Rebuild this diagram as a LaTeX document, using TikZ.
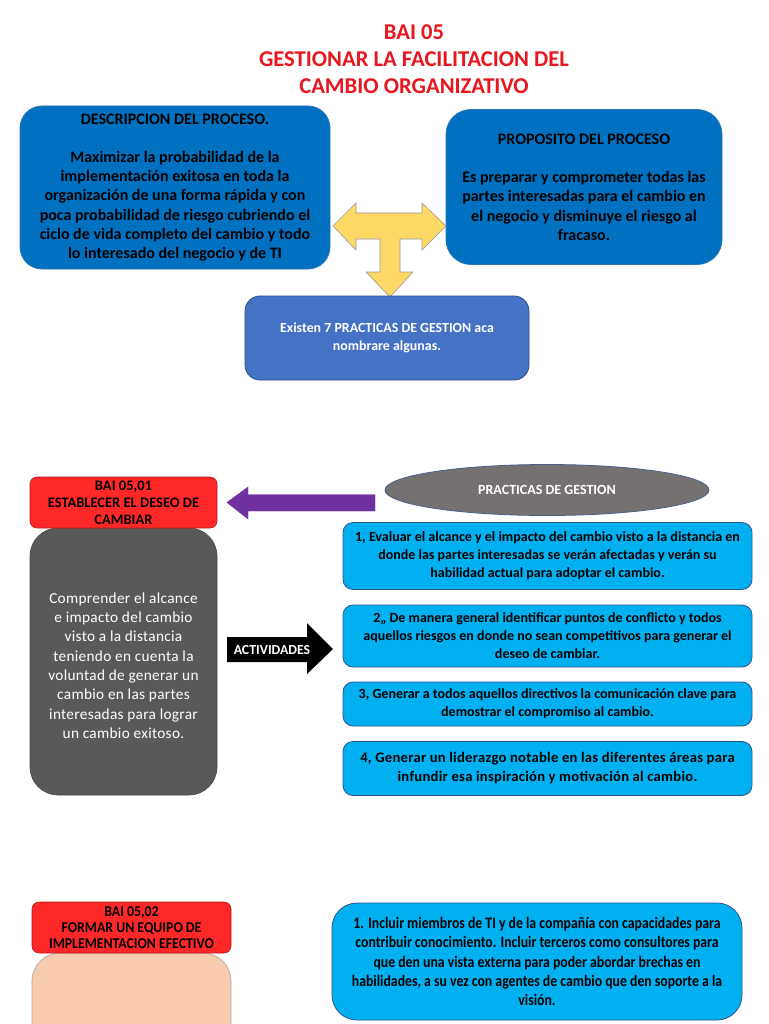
\documentclass[tikz,border=0pt]{standalone}
\usepackage{fontspec}
\setmainfont{Carlito}
\usetikzlibrary{shapes.geometric}
\definecolor{titlered}{RGB}{232,22,30}
\definecolor{darkblue}{RGB}{0,112,192}
\definecolor{darkblueedge}{RGB}{46,117,182}
\definecolor{midblue}{RGB}{68,114,196}
\definecolor{edgeblue}{RGB}{47,82,143}
\definecolor{lightblue}{RGB}{0,176,240}
\definecolor{boxred}{RGB}{255,40,40}
\definecolor{boxgray}{RGB}{89,89,89}
\definecolor{ellgray}{RGB}{118,113,113}
\definecolor{purp}{RGB}{112,48,160}
\definecolor{yel}{RGB}{255,217,102}
\definecolor{peach}{RGB}{248,203,173}
\begin{document}
\begin{tikzpicture}[x=1pt,y=-1pt,
  every node/.style={inner sep=0pt,outer sep=0pt,align=center},
  bigblue/.style={fill=darkblue,draw=darkblueedge,line width=0.8pt,rounded corners=22pt,
     font=\fontsize{16}{19.2}\selectfont\bfseries,text=black},
  litebox/.style={fill=lightblue,draw=edgeblue,line width=0.8pt,rounded corners=10pt,
     minimum width=409pt,font=\fontsize{14}{18}\selectfont\bfseries,text=black},
  redbox/.style={fill=boxred,draw=boxred!70!black,line width=0.6pt,rounded corners=7pt,
     font=\fontsize{14.5}{16.8}\selectfont\bfseries,text=black},
  blockarrow/.style={line width=0.6pt}
]
\useasboundingbox (0,0) rectangle (768,1024);
\fill[white] (0,0) rectangle (768,1024);

% Title
\node[text=titlered,font=\fontsize{22.6}{27}\selectfont\bfseries] (title) at (414,59)
  {BAI 05\\GESTIONAR LA FACILITACION DEL\\CAMBIO ORGANIZATIVO};

% Top boxes
\node[bigblue,minimum width=310pt,minimum height=163pt] (desc) at (175,187.5)
  {DESCRIPCION DEL PROCESO.\\[19.2pt]Maximizar la probabilidad de la\\implementación exitosa en toda la\\organización de una forma rápida y con\\poca probabilidad de riesgo cubriendo el\\ciclo de vida completo del cambio y todo\\lo interesado del negocio y de TI};
\node[bigblue,rounded corners=25pt,minimum width=276pt,minimum height=155pt] (prop) at (584,187)
  {PROPOSITO DEL PROCESO\\[19.5pt]Es preparar y comprometer todas las\\partes interesadas para el cambio en\\el negocio y disminuye el riesgo al\\fracaso.};

% T arrow
\draw[blockarrow,fill=yel,draw=gray!80] (333,226) -- (356,203) -- (356,213) -- (422,213) -- (422,203)
  -- (446,226) -- (422,250) -- (422,239) -- (400,239) -- (400,272) -- (413,272) -- (390,297)
  -- (366,272) -- (380,272) -- (380,239) -- (356,239) -- (356,250) -- cycle;

\node[fill=midblue,draw=edgeblue,line width=0.8pt,rounded corners=15pt,minimum width=284pt,minimum height=84pt,
  text=white,font=\fontsize{13.9}{17.5}\selectfont\bfseries] (exist) at (387,338)
  {Existen 7 PRACTICAS DE GESTION aca\\nombrare algunas.};

% Section 1
\node[fill=boxgray,draw=boxgray!80!black,line width=0.6pt,rounded corners=28pt,minimum width=187pt,minimum height=267pt] (gray1) at (123.5,661.5) {};
\node[text=white,font=\fontsize{15.3}{19.3}\selectfont\addfontfeature{LetterSpace=2}] (gray1txt) at (123.5,665.5)
  {Comprender el alcance\\e impacto del cambio\\visto a la distancia\\teniendo en cuenta la\\voluntad de generar un\\cambio en las partes\\interesadas para lograr\\un cambio exitoso.};
\node[redbox,minimum width=187pt,minimum height=51pt] (red1) at (123.5,502.5)
  {BAI 05,01\\ESTABLECER EL DESEO DE\\CAMBIAR};

\node[ellipse,fill=ellgray,draw=edgeblue!70!gray,line width=0.8pt,minimum width=324pt,minimum height=51pt,
  text=white,font=\fontsize{14}{16}\selectfont\bfseries] (pract) at (547,490) {PRACTICAS DE GESTION};

% purple arrow
\draw[fill=purp,draw=purp] (227,502.5) -- (248,487) -- (248,494.5) -- (375,494.5) -- (375,511)
  -- (248,511) -- (248,519) -- cycle;

% black arrow
\fill[black] (227,637) -- (307,637) -- (307,623) -- (333,649) -- (307,674) -- (307,662) -- (227,662) -- cycle;
\node[text=white,font=\fontsize{13.8}{15}\selectfont\bfseries] (act) at (272,650) {ACTIVIDADES};

\node[litebox,minimum height=67pt] (p1) at (547.5,556)
  {1, Evaluar el alcance y el impacto del cambio visto a la distancia en\\donde las partes interesadas se verán afectadas y verán su\\habilidad actual para adoptar el cambio.};
\node[litebox,minimum height=62pt] (p2) at (547.5,636)
  {2,, De manera general identificar puntos de conflicto y todos\\aquellos riesgos en donde no sean competitivos para generar el\\deseo de cambiar.};
\node[litebox,minimum height=44pt] (p3) at (547.5,704)
  {3, Generar a todos aquellos directivos la comunicación clave para\\demostrar el compromiso al cambio.};
\node[litebox,minimum height=54pt,font=\fontsize{14.6}{19}\selectfont\bfseries\addfontfeature{LetterSpace=2}] (p4) at (547.5,768.5)
  {4, Generar un liderazgo notable en las diferentes áreas para\\infundir esa inspiración y motivación al cambio.};

% Section 2
\draw[fill=peach,draw=gray!70,line width=0.6pt,rounded corners=28pt] (32,1060) -- (32,953) -- (231,953) -- (231,1060);
\node[redbox,minimum width=199pt,minimum height=51pt,font=\fontsize{15}{16}\selectfont\bfseries\addfontfeature{FakeStretch=0.92}] (red2) at (131.5,927.5)
  {BAI 05,02\\FORMAR UN EQUIPO DE\\IMPLEMENTACION EFECTIVO};
\coordinate (peachtop) at (131.5,953);

\node[fill=lightblue,draw=edgeblue,line width=0.8pt,rounded corners=25pt,minimum width=410pt,minimum height=117pt,
  text=black,font=\fontsize{16}{19.3}\selectfont\bfseries\addfontfeature{FakeStretch=0.86}] (b1) at (537,961.5)
  {1. Incluir miembros de TI y de la compañía con capacidades para\\contribuir conocimiento. Incluir terceros como consultores para\\que den una vista externa para poder abordar brechas en\\habilidades, a su vez con agentes de cambio que den soporte a la\\visión.};
\end{tikzpicture}
\end{document}
